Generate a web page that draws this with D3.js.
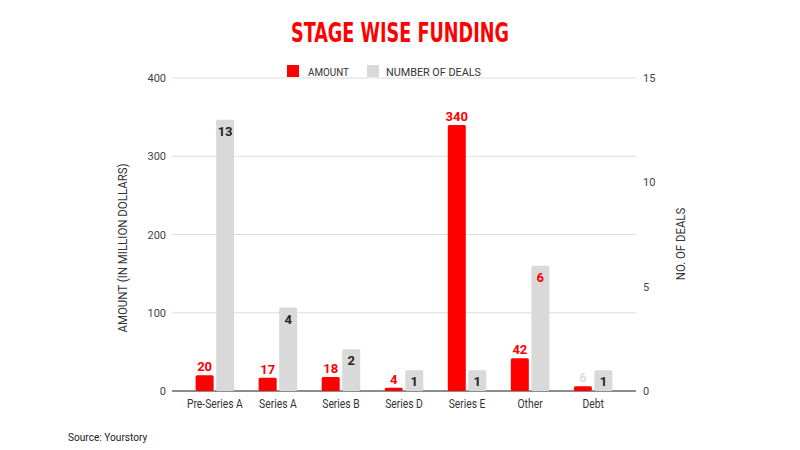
<!DOCTYPE html>
<html><head><meta charset="utf-8">
<script src="https://cdn.jsdelivr.net/npm/d3@7"></script>
<style>
body{margin:0;background:#fff;}
text{font-family:Roboto, "Liberation Sans", Arial, sans-serif;}
</style></head>
<body><svg id="c" width="800" height="450"></svg>
<script>
const categories = ["Pre-Series A","Series A","Series B","Series D","Series E","Other","Debt"];
const amounts = [20,17,18,4,340,42,6];
const deals = [13,4,2,1,1,6,1];
const amountTicks = [0,100,200,300,400];
const dealTicks = [0,5,10,15];
const amountLabelColors = ["#f00","#f00","#f00","#f00","#f00","#f00","#ddd"];
const dealLabelColors = ["#222","#222","#222","#222","#222","#f00","#222"];

const svg = d3.select("#c");
const L = 172, R = 636, T = 78, B = 391;
const x = d3.scaleBand().domain(categories).range([L, R]).paddingInner(0).paddingOuter(0.18);
const yL = d3.scaleLinear().domain([0,400]).range([B,T]);
const yR = d3.scaleLinear().domain([0,15]).range([B,T]);
const bw = 18, gap = 2.5;
function squeeze(sel, f){ sel.each(function(){ const w=this.getComputedTextLength(); d3.select(this).attr("textLength",w*f).attr("lengthAdjust","spacingAndGlyphs"); }); }

// title
svg.append("text").attr("x",400).attr("y",42).attr("text-anchor","middle")
  .attr("fill","#f00").style("font-family","'Liberation Sans Narrow','DejaVu Sans Condensed',sans-serif")
  .style("font-weight","bold").style("font-size","27px")
  .attr("textLength",218).attr("lengthAdjust","spacingAndGlyphs").text("STAGE WISE FUNDING");

// legend
const lg = svg.append("g");
lg.append("rect").attr("x",287).attr("y",65).attr("width",12).attr("height",12).attr("fill","#f00");
lg.append("text").attr("x",308).attr("y",75.5).attr("fill","#333").style("font-size","11.5px").attr("textLength",41).attr("lengthAdjust","spacingAndGlyphs").text("AMOUNT");
lg.append("rect").attr("x",367).attr("y",65).attr("width",12).attr("height",12).attr("fill","#d9d9d9");
lg.append("text").attr("x",386).attr("y",75.5).attr("fill","#333").style("font-size","11.5px").attr("textLength",95).attr("lengthAdjust","spacingAndGlyphs").text("NUMBER OF DEALS");

// gridlines
svg.append("g").selectAll("line").data(amountTicks).join("line")
  .attr("x1",L).attr("x2",R).attr("y1",d=>yL(d)).attr("y2",d=>yL(d))
  .attr("stroke",d=>d===0?"#666":"#ddd").attr("stroke-width",d=>d===0?1.5:1.2);

// left axis
const la = svg.append("g").attr("transform",`translate(${L},0)`)
  .call(d3.axisLeft(yL).tickValues(amountTicks).tickSize(0).tickPadding(6));
la.select(".domain").remove();
la.selectAll("text").attr("fill","#444").style("font-size","11px");

// right axis
const ra = svg.append("g").attr("transform",`translate(${R},0)`)
  .call(d3.axisRight(yR).tickValues(dealTicks).tickSize(0).tickPadding(7));
ra.select(".domain").remove();
ra.selectAll("text").attr("fill","#444").style("font-size","11px");

// bottom axis labels
const ba = svg.append("g").attr("transform",`translate(0,${B})`)
  .call(d3.axisBottom(x).tickSize(0).tickPadding(8));
ba.select(".domain").remove();
ba.selectAll("text").attr("fill","#333").style("font-size","12px");
squeeze(ba.selectAll("text"),0.86);

// axis titles
svg.append("text").attr("transform","translate(127,248) rotate(-90)").attr("text-anchor","middle")
  .attr("fill","#333").style("font-size","12px").text("AMOUNT (IN MILLION DOLLARS)").call(s=>squeeze(s,0.955));
svg.append("text").attr("transform","translate(685,244) rotate(-90)").attr("text-anchor","middle")
  .attr("fill","#333").style("font-size","12px").text("NO. OF DEALS").call(s=>squeeze(s,0.95));

// bars
const g = svg.append("g");
const cx = c => x(c) + x.bandwidth()/2;
g.selectAll(".amt").data(categories).join("rect")
  .attr("x",c=>cx(c)-gap/2-bw).attr("width",bw)
  .attr("y",(c,i)=>yL(amounts[i])).attr("height",(c,i)=>B-yL(amounts[i]))
  .attr("rx",1.5).attr("fill","#f00");
g.selectAll(".dl").data(categories).join("rect")
  .attr("x",c=>cx(c)+gap/2).attr("width",bw)
  .attr("y",(c,i)=>yR(deals[i])).attr("height",(c,i)=>B-yR(deals[i]))
  .attr("rx",1.5).attr("fill","#d9d9d9");

// labels
g.selectAll(".al").data(categories).join("text")
  .attr("x",c=>cx(c)-gap/2-bw/2).attr("y",(c,i)=>yL(amounts[i])-4)
  .attr("text-anchor","middle").attr("fill",(c,i)=>amountLabelColors[i])
  .style("font-weight","bold").style("font-size","13px").text((c,i)=>amounts[i]);
g.selectAll(".dlab").data(categories).join("text")
  .attr("x",c=>cx(c)+gap/2+bw/2).attr("y",(c,i)=>yR(deals[i])+16)
  .attr("text-anchor","middle").attr("fill",(c,i)=>dealLabelColors[i])
  .style("font-weight","bold").style("font-size","13px").text((c,i)=>deals[i]);

// source
svg.append("text").attr("x",68).attr("y",441).attr("fill","#222").style("font-size","11px").text("Source: Yourstory").call(s=>squeeze(s,0.92));
</script></body></html>
